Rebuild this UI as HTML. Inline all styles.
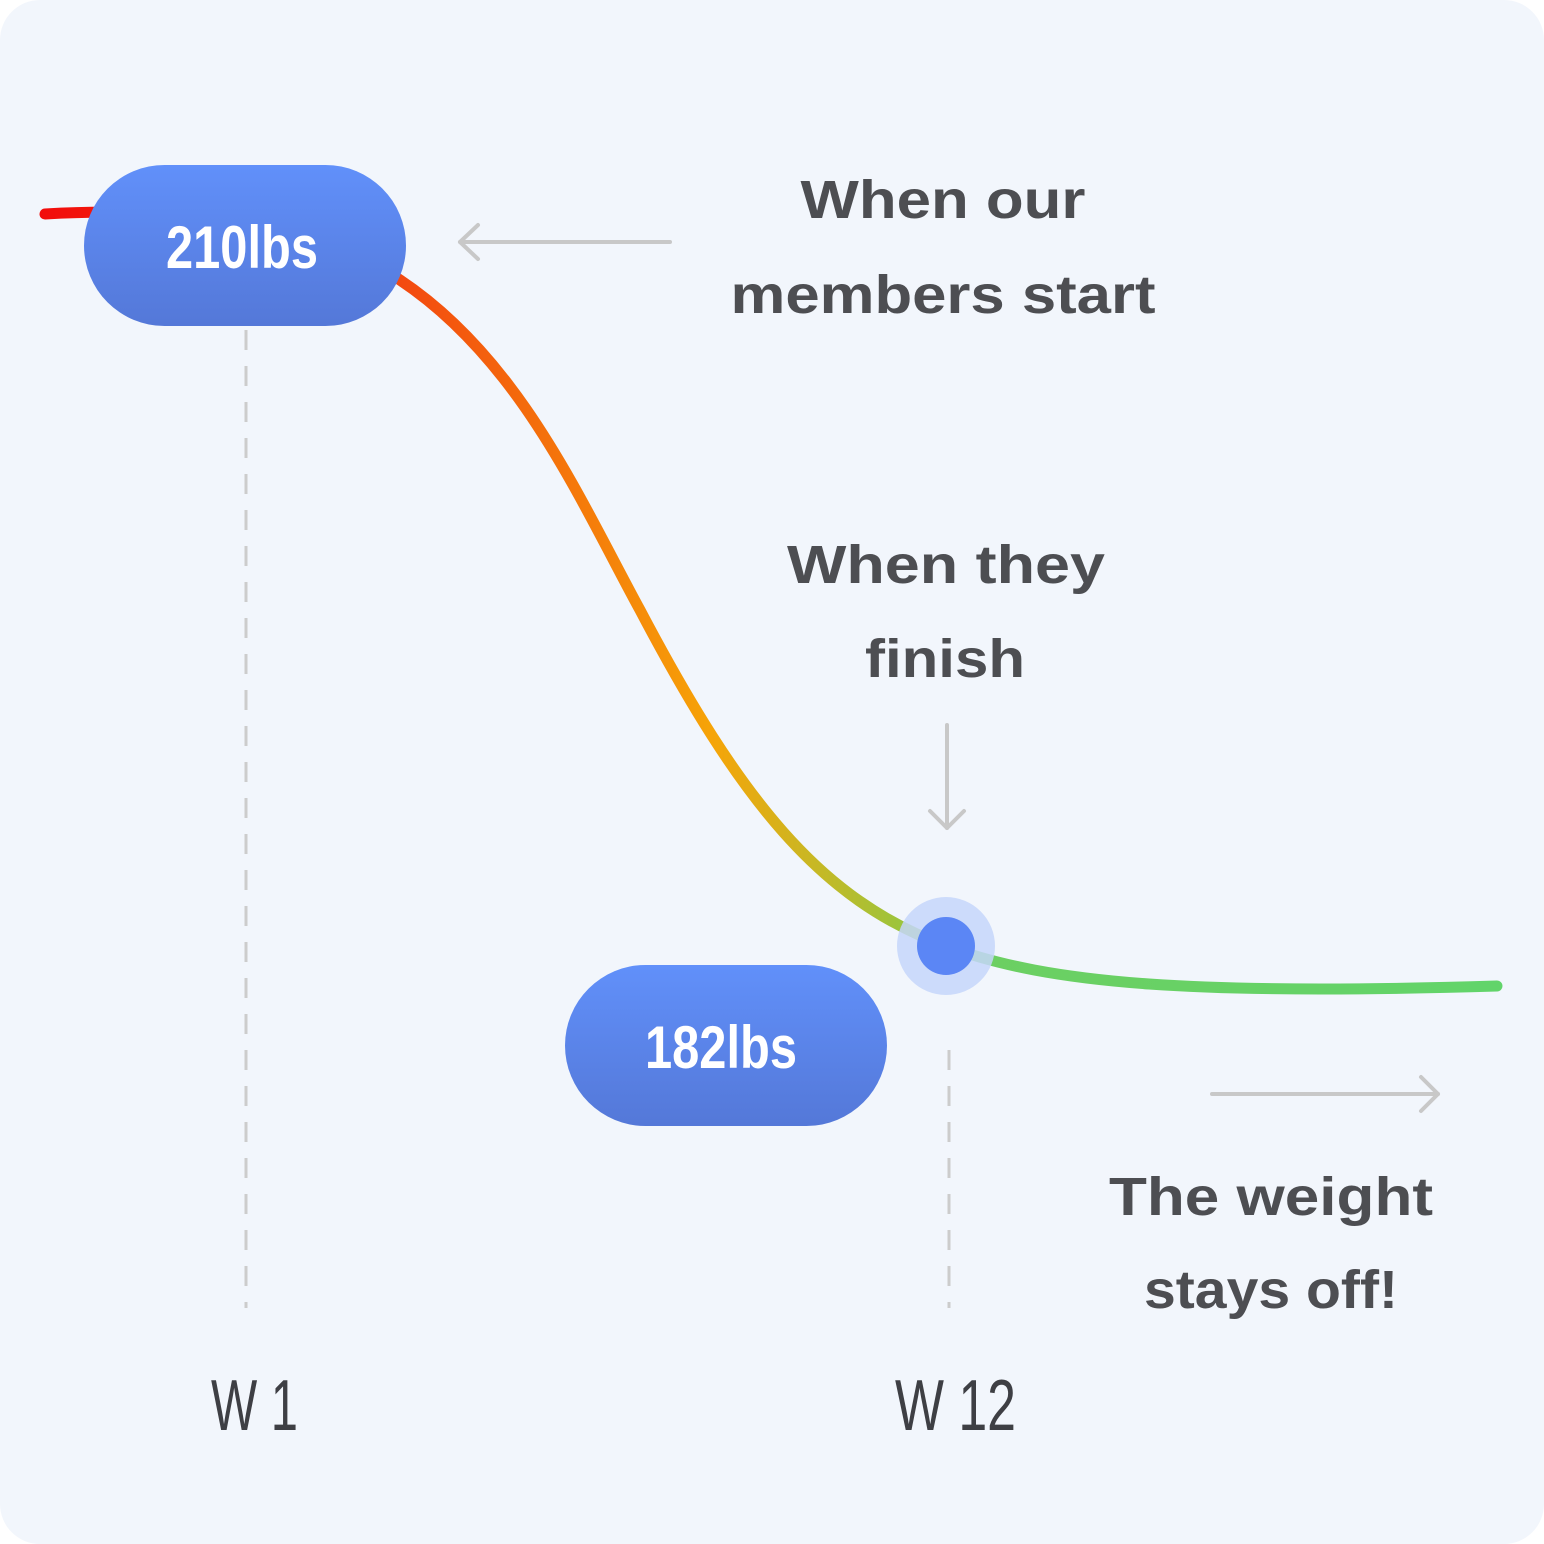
<!DOCTYPE html>
<html><head><meta charset="utf-8"><style>
html,body{margin:0;padding:0;background:#fff;}
svg{display:block}
</style></head><body>
<svg width="1544" height="1544" viewBox="0 0 1544 1544" xmlns="http://www.w3.org/2000/svg">
<defs>
<linearGradient id="cg" gradientUnits="userSpaceOnUse" x1="40" y1="0" x2="1500" y2="0">
<stop offset="0" stop-color="#f20c0c"/>
<stop offset="0.25" stop-color="#f34a10"/>
<stop offset="0.38" stop-color="#f57e0a"/>
<stop offset="0.46" stop-color="#f6a408"/>
<stop offset="0.53" stop-color="#c8b824"/>
<stop offset="0.59" stop-color="#9cc43c"/>
<stop offset="0.64" stop-color="#6ccf62"/>
<stop offset="1" stop-color="#62d46a"/>
</linearGradient>
<linearGradient id="pg" x1="0" y1="0" x2="0" y2="1">
<stop offset="0" stop-color="#6190fa"/>
<stop offset="1" stop-color="#5478d8"/>
</linearGradient>
</defs>
<rect x="0" y="0" width="1544" height="1544" rx="40" fill="#f2f6fc"/>
<path d="M45,214 C 200,205 330,230 400,280 C 520,360 580,500 640,610 C 740,800 820,900 946,946 C 1050,985 1200,995 1497,986" fill="none" stroke="url(#cg)" stroke-width="11" stroke-linecap="round"/>
<g stroke="#cccccc" stroke-width="3" stroke-dasharray="20 16" fill="none">
<line x1="246" y1="330" x2="246" y2="1308"/>
<line x1="949" y1="1050" x2="949" y2="1308"/>
</g>
<g stroke="#c8c8c8" stroke-width="4" fill="none" stroke-linecap="round" stroke-linejoin="round">
<line x1="670" y1="242" x2="460" y2="242"/><polyline points="478,225 460,242 478,259"/>
<line x1="947" y1="725" x2="947" y2="828"/><polyline points="930,811 947,828 964,811"/>
<line x1="1212" y1="1094" x2="1438" y2="1094"/><polyline points="1421,1077 1438,1094 1421,1111"/>
</g>
<rect x="84" y="165" width="322" height="161" rx="80.5" fill="url(#pg)"/>
<rect x="565" y="965" width="322" height="161" rx="80.5" fill="url(#pg)"/>
<circle cx="946" cy="946" r="49" fill="#c5d6fa" opacity="0.85"/>
<circle cx="946" cy="946" r="29" fill="#5b86f5"/>
<g fill="#fff" font-family="Liberation Sans Narrow, Liberation Sans, sans-serif" font-weight="bold" font-size="60" text-anchor="middle">
<text x="242" y="268" textLength="152" lengthAdjust="spacingAndGlyphs">210lbs</text>
<text x="721" y="1068" textLength="152" lengthAdjust="spacingAndGlyphs">182lbs</text>
</g>
<g fill="#4d4e52" font-family="Liberation Sans, sans-serif" font-weight="bold" font-size="54" text-anchor="middle">
<text x="943" y="218" textLength="285" lengthAdjust="spacingAndGlyphs">When our</text>
<text x="943" y="313" textLength="425" lengthAdjust="spacingAndGlyphs">members start</text>
<text x="946" y="583" textLength="318" lengthAdjust="spacingAndGlyphs">When they</text>
<text x="945" y="677" textLength="160" lengthAdjust="spacingAndGlyphs">finish</text>
<text x="1271" y="1215" textLength="324" lengthAdjust="spacingAndGlyphs">The weight</text>
<text x="1271" y="1308" textLength="254" lengthAdjust="spacingAndGlyphs">stays off!</text>
</g>
<g fill="#3e3f44" font-family="Liberation Sans Narrow, Liberation Sans, sans-serif" font-size="72">
<text x="211" y="1430" textLength="87" lengthAdjust="spacingAndGlyphs">W 1</text>
<text x="895" y="1430" textLength="121" lengthAdjust="spacingAndGlyphs">W 12</text>
</g>
</svg>
</body></html>
